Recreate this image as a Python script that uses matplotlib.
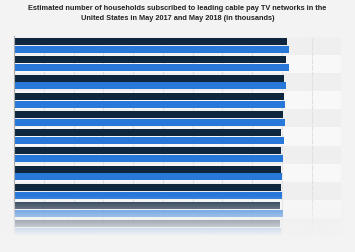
import numpy as np
import matplotlib
matplotlib.use("Agg")
import matplotlib.pyplot as plt

# values in thousands of households (no labels visible in the reference)
networks = ["Network %d" % (i + 1) for i in range(11)]
may_2017 = [91630, 91300, 90620, 90620, 90290, 89710, 89710, 89710, 89710, 89380, 89380]
may_2018 = [92410, 92300, 91300, 90960, 91160, 90620, 90290, 90050, 90050, 90290, 89620]

title = ("Estimated number of households subscribed to leading cable pay TV networks in the\n"
         "United States in May 2017 and May 2018 (in thousands)")

bg = "#f3f3f3"
W, H = 355, 253
fig = plt.figure(figsize=(W / 100, H / 100), dpi=100, facecolor=bg)
plt.rcParams["font.family"] = ["Liberation Sans", "DejaVu Sans"]

ax = fig.add_axes([14 / W, 1 - 237.7 / H, (341.3 - 14) / W, 200.2 / H])
ax.set_facecolor(bg)
n = len(networks)
y = np.arange(n)

# alternating row bands
for i in range(n):
    ax.axhspan(i - 0.5, i + 0.5, color="#efefef" if i % 2 == 0 else "#f8f8f8", lw=0, zorder=0)

ax.barh(y - 0.215, may_2017, height=0.39, color="#0f263f", zorder=3)
ax.barh(y + 0.215, may_2018, height=0.39, color="#2878d9", zorder=3)

ax.set_xlim(0, 110000)
ax.set_ylim(n - 0.5, -0.5)
ax.set_xticks(np.arange(0, 110001, 10000))
ax.grid(axis="x", color="#e0e0e0", lw=0.8, ls=(0, (5, 1)), zorder=1)
ax.tick_params(left=False, bottom=False, labelleft=False, labelbottom=False)
for s in ["top", "right", "bottom"]:
    ax.spines[s].set_visible(False)
ax.spines["left"].set_color("#aaaaaa")
ax.spines["left"].set_linewidth(0.8)
ax.spines["left"].set_zorder(4)

fig.text(0.5, 1 - 13.5 / H, title, ha="center", va="center", fontsize=5.35,
         fontweight="bold", color="#222222", linespacing=1.6)

# paywall fade at the bottom
y0, y1 = 197, 237
fade = fig.add_axes([0, 1 - y1 / H, 1, (y1 - y0) / H], zorder=10)
t = np.linspace(0, 1, 200) ** 0.85
rgba = np.zeros((200, 2, 4))
rgba[..., :3] = np.array([0xf3, 0xf3, 0xf3]) / 255
rgba[..., 3] = t[:, None]
fade.imshow(rgba, aspect="auto", extent=[0, 1, 1, 0], interpolation="bilinear")
fade.set_xlim(0, 1)
fade.set_ylim(1, 0)
fade.axis("off")
cover = fig.add_axes([0, 0, 1, 1 - y1 / H + 0.002], zorder=10)
cover.set_facecolor(bg)
cover.set_xticks([])
cover.set_yticks([])
for s in cover.spines.values():
    s.set_visible(False)

fig.savefig("out.png", dpi=100, facecolor=bg)
